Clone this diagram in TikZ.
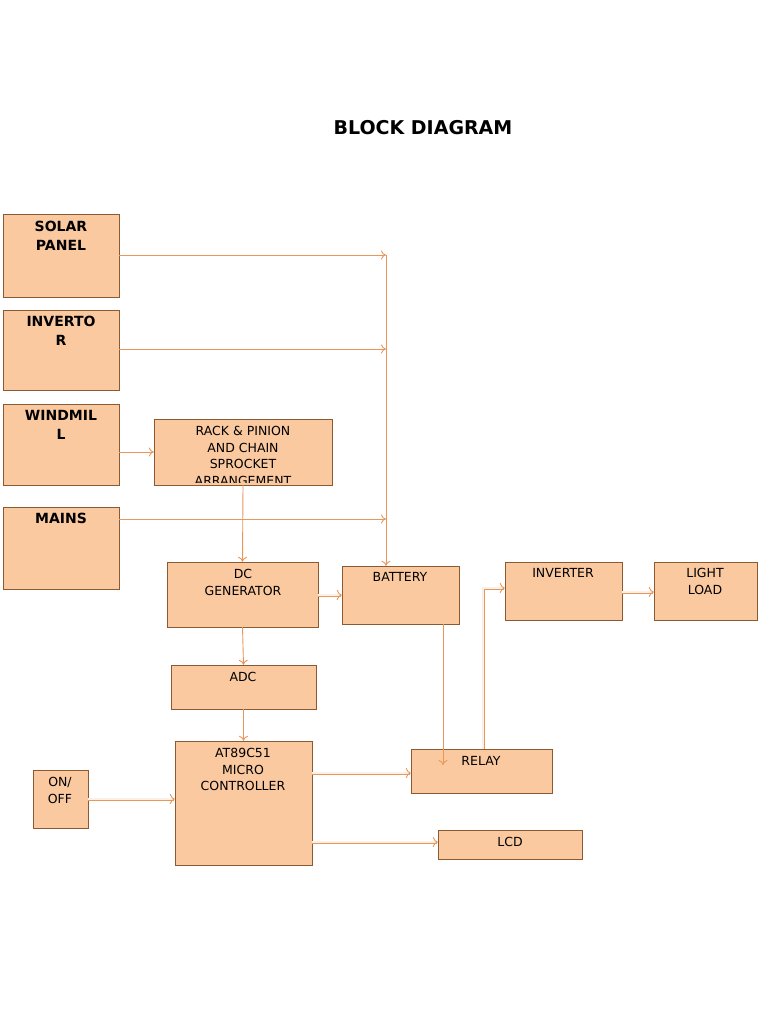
\documentclass[tikz,border=0pt]{standalone}
\usepackage{fontspec}
\setmainfont{DejaVu Sans}
\usetikzlibrary{arrows.meta}
\definecolor{boxfill}{HTML}{FBC9A0}
\definecolor{boxline}{HTML}{8A5A33}
\definecolor{wire}{HTML}{E8975A}
\begin{document}
\begin{tikzpicture}[x=1pt,y=-1pt,
 blk/.style={draw=boxline,fill=boxfill,line width=0.8pt},
 btxt/.style={anchor=north,align=center,font=\fontsize{14}{19}\selectfont\bfseries},
 ntxt/.style={anchor=north,align=center,font=\fontsize{12.5}{16.5}\selectfont},
 w/.style={draw=wire,line width=0.9pt,-{To[length=5pt,width=9pt]}},
 ww/.style={draw=wire,line width=0.9pt,double=white!85!wire,double distance=1.2pt,-{To[length=5pt,width=10pt]}},
 wl/.style={draw=wire,line width=0.9pt}]
\useasboundingbox (0,0) rectangle (768,1024);
\node[font=\fontsize{19}{22}\selectfont\bfseries] (title) at (423,128) {BLOCK DIAGRAM};
% boxes
\newcommand\blkbox[5]{\path[blk] (#2,#3) rectangle (#4,#5); \coordinate (#1) at (#2,#3);}
\draw[blk] (3,214) rectangle (119,297); \node (solar) at (61,255.5) [minimum width=116pt,minimum height=83pt] {};
\node[btxt] at (61,218) {SOLAR\\PANEL};
\draw[blk] (3,310) rectangle (119,390); \node (invt) at (61,350) [minimum width=116pt,minimum height=80pt] {};
\node[btxt] at (61,313) {INVERTO\\R};
\draw[blk] (3,404) rectangle (119,485); \node (wind) at (61,444.5) [minimum width=116pt,minimum height=81pt] {};
\node[btxt] at (61,407) {WINDMIL\\L};
\draw[blk] (3,507) rectangle (119,589); \node (mains) at (61,548) [minimum width=116pt,minimum height=82pt] {};
\node[btxt] at (61,510) {MAINS};
\draw[blk] (154,419) rectangle (332,485); \node (rack) at (243,452) [minimum width=178pt,minimum height=66pt] {};
\begin{scope}\clip (154,419) rectangle (332,482);
\node[ntxt] at (243,423) {RACK \& PINION\\AND CHAIN\\SPROCKET\\ARRANGEMENT};
\end{scope}
\draw[blk] (167,562) rectangle (318,627); \node (dc) at (242.5,594.5) [minimum width=151pt,minimum height=65pt] {};
\node[ntxt] at (243,566) {DC\\GENERATOR};
\draw[blk] (342,566) rectangle (459,624); \node (bat) at (400.5,595) [minimum width=117pt,minimum height=58pt] {};
\node[ntxt] at (400,569) {BATTERY};
\draw[blk] (505,562) rectangle (622,620); \node (inv) at (563.5,591) [minimum width=117pt,minimum height=58pt] {};
\node[ntxt] at (563,565) {INVERTER};
\draw[blk] (654,562) rectangle (757,620); \node (light) at (705.5,591) [minimum width=103pt,minimum height=58pt] {};
\node[ntxt] at (705,565) {LIGHT\\LOAD};
\draw[blk] (171,665) rectangle (316,709); \node (adc) at (243.5,687) [minimum width=145pt,minimum height=44pt] {};
\node[ntxt] at (243,669) {ADC};
\draw[blk] (175,741) rectangle (312,865); \node (mc) at (243.5,803) [minimum width=137pt,minimum height=124pt] {};
\node[ntxt] at (243,745) {AT89C51\\MICRO\\CONTROLLER};
\draw[blk] (33,770) rectangle (88,828); \node (onoff) at (60.5,799) [minimum width=55pt,minimum height=58pt] {};
\node[ntxt] at (60,774) {ON/\\OFF};
\draw[blk] (411,749) rectangle (552,793); \node (relay) at (481.5,771) [minimum width=141pt,minimum height=44pt] {};
\node[ntxt] at (481,753) {RELAY};
\draw[blk] (438,830) rectangle (582,859); \node (lcd) at (510,844.5) [minimum width=144pt,minimum height=29pt] {};
\node[ntxt] at (510,834) {LCD};
% connectors
\coordinate (j1) at (386,255); \coordinate (j2) at (386,349); \coordinate (j3) at (386,519);
\draw[w] (solar.east |- j1) -- (j1);
\draw[w] (invt.east |- j2) -- (j2);
\draw[w] (mains.east |- j3) -- (j3);
\draw[w] (j1) -- (j1 |- bat.north);
\draw[w] (wind.east |- 0,452) -- (rack.west |- 0,452);
\draw[w] (rack.south) -- (dc.north);
\draw[ww] (dc.east |- 0,595) -- (bat.west |- 0,595);
\draw[w] (dc.south) -- (adc.north);
\draw[w] (adc.south) -- (mc.north);
\draw[ww] (onoff.east) -- (mc.west |- onoff.east);
\draw[ww] (mc.east |- 0,773) -- (relay.west |- 0,773);
\draw[ww] (mc.east |- 0,842) -- (lcd.west |- 0,842);
\coordinate (rl) at (443,765);
\draw[w] (bat.south -| rl) -- (rl);
\coordinate (up) at (483,588);
\draw[ww] (relay.north -| up) -- (up) -- (inv.west |- up);
\draw[ww] (inv.east |- 0,592) -- (light.west |- 0,592);
\end{tikzpicture}
\end{document}
